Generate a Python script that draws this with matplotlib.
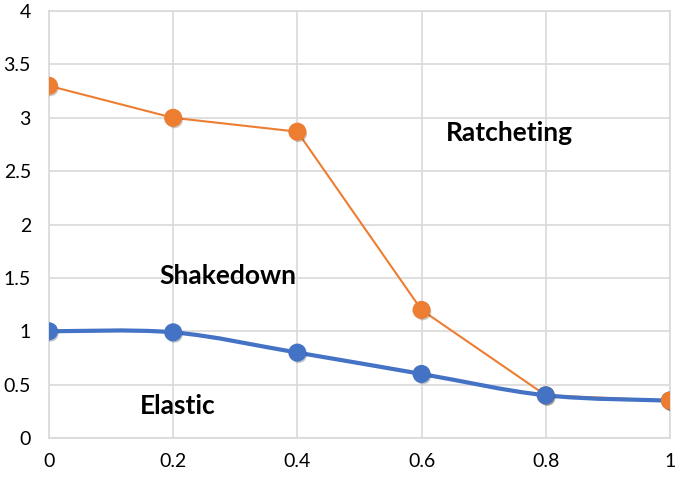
import numpy as np
import matplotlib.pyplot as plt
from matplotlib.path import Path
from matplotlib.patches import PathPatch
import matplotlib.patheffects as pe

plt.rcParams['font.family'] = ['Lato', 'DejaVu Sans']

x = [0, 0.2, 0.4, 0.6, 0.8, 1.0]
ratchet = [3.3, 3.0, 2.87, 1.2, 0.4, 0.35]
elastic = [1.0, 0.99, 0.8, 0.6, 0.4, 0.35]

xticks = [0, 0.2, 0.4, 0.6, 0.8, 1]
xlabels = ['0', '0.2', '0.4', '0.6', '0.8', '1']
yticks = [0, 0.5, 1, 1.5, 2, 2.5, 3, 3.5, 4]
ylabels = ['0', '0.5', '1', '1.5', '2', '2.5', '3', '3.5', '4']

orange = '#ED7D31'
blue = '#4472C4'

fig = plt.figure(figsize=(6.85, 4.82), dpi=100)
ax = fig.add_axes([0.0715, 0.0913, 0.9065, 0.8857])

shadow = [pe.SimplePatchShadow(offset=(1, -1.5), alpha=0.25), pe.Normal()]

# smooth curve like excel (catmull-rom bezier)
pts = np.column_stack([x, elastic])
ext = np.vstack([pts[0], pts, pts[-1]])
verts = [tuple(pts[0])]
codes = [Path.MOVETO]
for i in range(1, len(ext) - 2):
    p0, p1, p2, p3 = ext[i - 1], ext[i], ext[i + 1], ext[i + 2]
    c1 = p1 + (p2 - p0) / 6
    c2 = p2 - (p3 - p1) / 6
    verts += [tuple(c1), tuple(c2), tuple(p2)]
    codes += [Path.CURVE4] * 3

ax.plot(x, ratchet, color=orange, lw=1.5, zorder=3)
ax.plot(x, ratchet, 'o', color=orange, ms=12, zorder=3, path_effects=shadow)
ax.add_patch(PathPatch(Path(verts, codes), fc='none', ec=blue, lw=3, zorder=4))
ax.plot(x, elastic, 'o', color=blue, ms=12, zorder=4, path_effects=shadow)
ax.plot(x[-1:], ratchet[-1:], 'o', color=orange, ms=12, zorder=5, path_effects=shadow)

ax.text(0.742, 2.86, 'Ratcheting', fontsize=19, fontweight='bold', ha='center', va='center')
ax.text(0.288, 1.52, 'Shakedown', fontsize=19, fontweight='bold', ha='center', va='center')
ax.text(0.208, 0.30, 'Elastic', fontsize=19, fontweight='bold', ha='center', va='center')

ax.set_xlim(0, 1)
ax.set_ylim(0, 4)
ax.set_xticks(xticks)
ax.set_xticklabels(xlabels)
ax.set_yticks(yticks)
ax.set_yticklabels(ylabels)
ax.tick_params(length=0, labelsize=14, colors='#000000')
ax.tick_params(axis='x', pad=11)
ax.tick_params(axis='y', pad=13)
ax.grid(True, color='#d9d9d9', lw=1.2)
for s in ax.spines.values():
    s.set_color('#d9d9d9')
    s.set_linewidth(1.2)
ax.set_axisbelow(True)

fig.savefig('out.png', dpi=100)
